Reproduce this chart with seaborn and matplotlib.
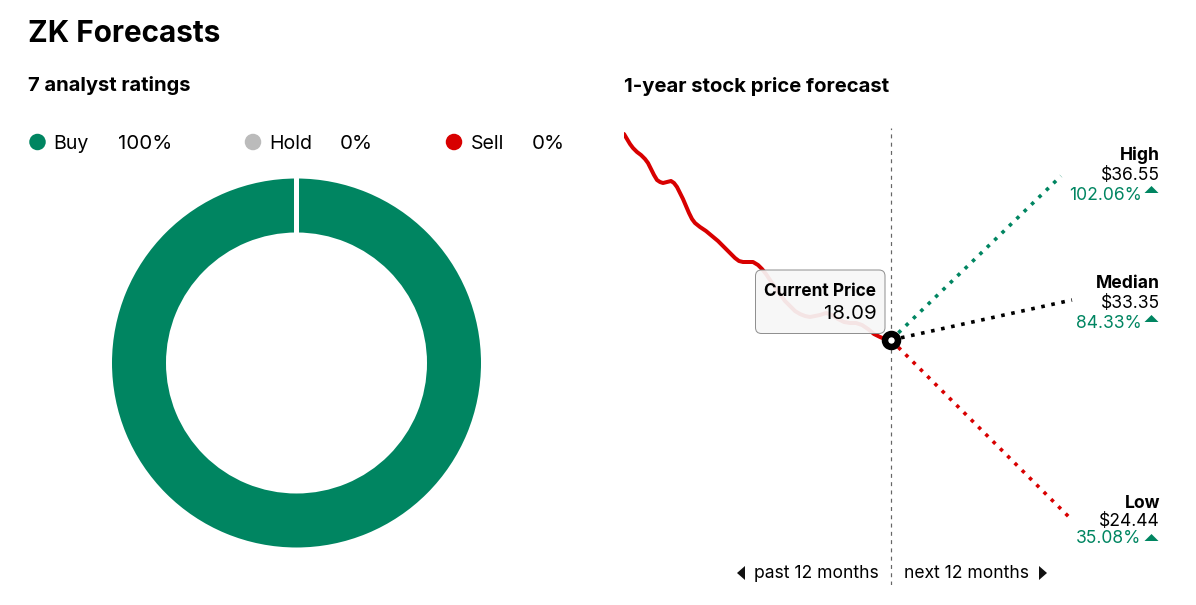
import matplotlib
matplotlib.use("Agg")
import matplotlib.pyplot as plt
import pandas as pd
import seaborn as sns
from matplotlib.patches import FancyBboxPatch

# dados do grafico
rating_names = ["Buy", "Hold", "Sell"]
rating_pct = [100, 0, 0]
rating_colors = ["#008561", "#bbbbbb", "#d80000"]

# historico: distancia ate hoje (x) e nivel em relacao ao preco atual (y)
history_x = [-267, -264, -261, -258, -254, -250, -246, -243, -240, -237, -234, -231, -228, -224, -220,
             -217, -214, -211, -208, -205, -202, -199, -196, -191, -185, -179, -173, -167, -161, -156,
             -152, -148, -143, -138, -133, -129, -125, -121, -116, -111, -106, -101, -96, -91, -86,
             -81, -76, -71, -65, -59, -53, -47, -41, -35, -29, -23, -17, -11, -6, 0]
history_y = [206, 201, 196, 192, 188, 185, 181, 177, 171, 165, 160, 158, 157, 158, 159,
             157, 153, 147, 141, 134, 127, 121, 117, 113, 109, 104, 99, 93, 87, 82,
             79, 78, 78, 78, 75, 71, 66, 60, 53, 46, 39, 34, 29, 26, 24,
             23, 24, 25, 27, 25, 21, 18, 17, 17, 15, 11, 6, 3, 1, 0]

forecast_names = ["High", "Median", "Low"]
forecast_prices = ["$36.55", "$33.35", "$24.44"]
forecast_changes = ["102.06%", "84.33%", "35.08%"]
forecast_end_x = [170, 181, 181]
forecast_end_y = [164, 40, -180]
forecast_colors = ["#008561", "#000000", "#d80000"]
current_price = "18.09"

W, H = 1196, 605
GREEN = "#008561"

sns.set_theme(style="white")
plt.rcParams["font.family"] = ["Inter", "Liberation Sans", "DejaVu Sans"]


def px_axes(left, top, right, bottom):
    return fig.add_axes([left / W, 1 - bottom / H, (right - left) / W, (bottom - top) / H])


def fs(px):
    return px * 0.72


fig = plt.figure(figsize=(W / 100, H / 100), dpi=100, facecolor="white")

# rosca
ax_pie = px_axes(296.5 - 190, 363 - 190, 296.5 + 190, 363 + 190)
ax_pie.pie(rating_pct, colors=rating_colors, startangle=90, counterclock=False, radius=187 / 190,
           wedgeprops=dict(width=59 / 190, edgecolor="white", linewidth=fs(5)))
ax_pie.set_xlim(-1, 1)
ax_pie.set_ylim(-1, 1)

# previsao
ax = px_axes(624, 128, 1160, 585)
ax.set_xlim(-267, 269)
ax.set_ylim(-245, 212)
ax.axis("off")
ax.axvline(0, color="#666666", lw=fs(1.2), linestyle=(0, (3.3, 3.6)), zorder=1)

hist = pd.DataFrame({"x": history_x, "y": history_y})
sns.lineplot(data=hist, x="x", y="y", ax=ax, color="#d80000", lw=fs(4), sort=False,
             estimator=None, errorbar=None, zorder=2, solid_capstyle="round", solid_joinstyle="round")
for ex, ey, c in zip(forecast_end_x, forecast_end_y, forecast_colors):
    sns.lineplot(x=[0, ex], y=[0, ey], ax=ax, color=c, lw=fs(3.6), sort=False, estimator=None,
                 errorbar=None, zorder=2, linestyle=(0, (1, 1.85)), dash_capstyle="butt")
ax.add_patch(FancyBboxPatch((-135.5, 6.5), 129.5, 63.5, boxstyle="round,pad=0,rounding_size=6",
                            facecolor="#f7f7f7", edgecolor="#888888", lw=fs(1), alpha=0.93, zorder=3))
sns.scatterplot(x=[0], y=[0], ax=ax, s=fs(13) ** 2, color="white", edgecolor="black",
                linewidth=fs(6.5), zorder=5, legend=False)
ax.set_xlabel("")
ax.set_ylabel("")

# camada de textos em pixels
top = px_axes(0, 0, W, H)
top.set_xlim(0, W)
top.set_ylim(H, 0)
top.axis("off")
top.patch.set_alpha(0)


def put(x, y, s, size, weight="normal", color="black", ha="left"):
    top.text(x, y, s, fontsize=fs(size), fontweight=weight, color=color, ha=ha, va="baseline")


put(28, 42, "ZK Forecasts", 29.7, "bold")
put(28, 91, "7 analyst ratings", 20.2, "bold")
put(624, 92, "1-year stock price forecast", 20.3, "bold")

legend_dot_x = [37.5, 253, 454]
legend_name_x = [53.5, 269, 471]
legend_pct_x = [172, 373, 565]
sns.scatterplot(x=legend_dot_x, y=[142, 142, 142], ax=top, s=fs(16.5) ** 2, c=rating_colors, linewidth=0, legend=False)
for name, pct, nx, px in zip(rating_names, rating_pct, legend_name_x, legend_pct_x):
    put(nx, 149, name, 19.5)
    put(px, 149, f"{pct}%", 20.5, ha="right")

put(876.5, 296, "Current Price", 17.2, "bold", ha="right")
put(876.5, 319, current_price, 20.5, ha="right")

name_y = [160, 288, 508]
price_y = [180, 308, 526]
change_y = [200, 328, 543]
tri_y = [193, 322, 541]
for i in range(3):
    put(1160, name_y[i], forecast_names[i], 17.5, "bold", ha="right")
    put(1160, price_y[i], forecast_prices[i], 17.5, ha="right")
    put(1141.5, change_y[i], forecast_changes[i], 17.5, color=GREEN, ha="right")
    top.fill([1144.5, 1158.5, 1151.5], [tri_y[i], tri_y[i], tri_y[i] - 7], color=GREEN, lw=0)

put(754, 578, "past 12 months", 17.5)
put(904, 578, "next 12 months", 17.5)
top.fill([745, 745, 737], [566, 580, 573], color="#111111", lw=0)
top.fill([1039, 1039, 1047], [566, 580, 573], color="#111111", lw=0)
top.set_xlim(0, W)
top.set_ylim(H, 0)

fig.savefig("out.png", dpi=100)
